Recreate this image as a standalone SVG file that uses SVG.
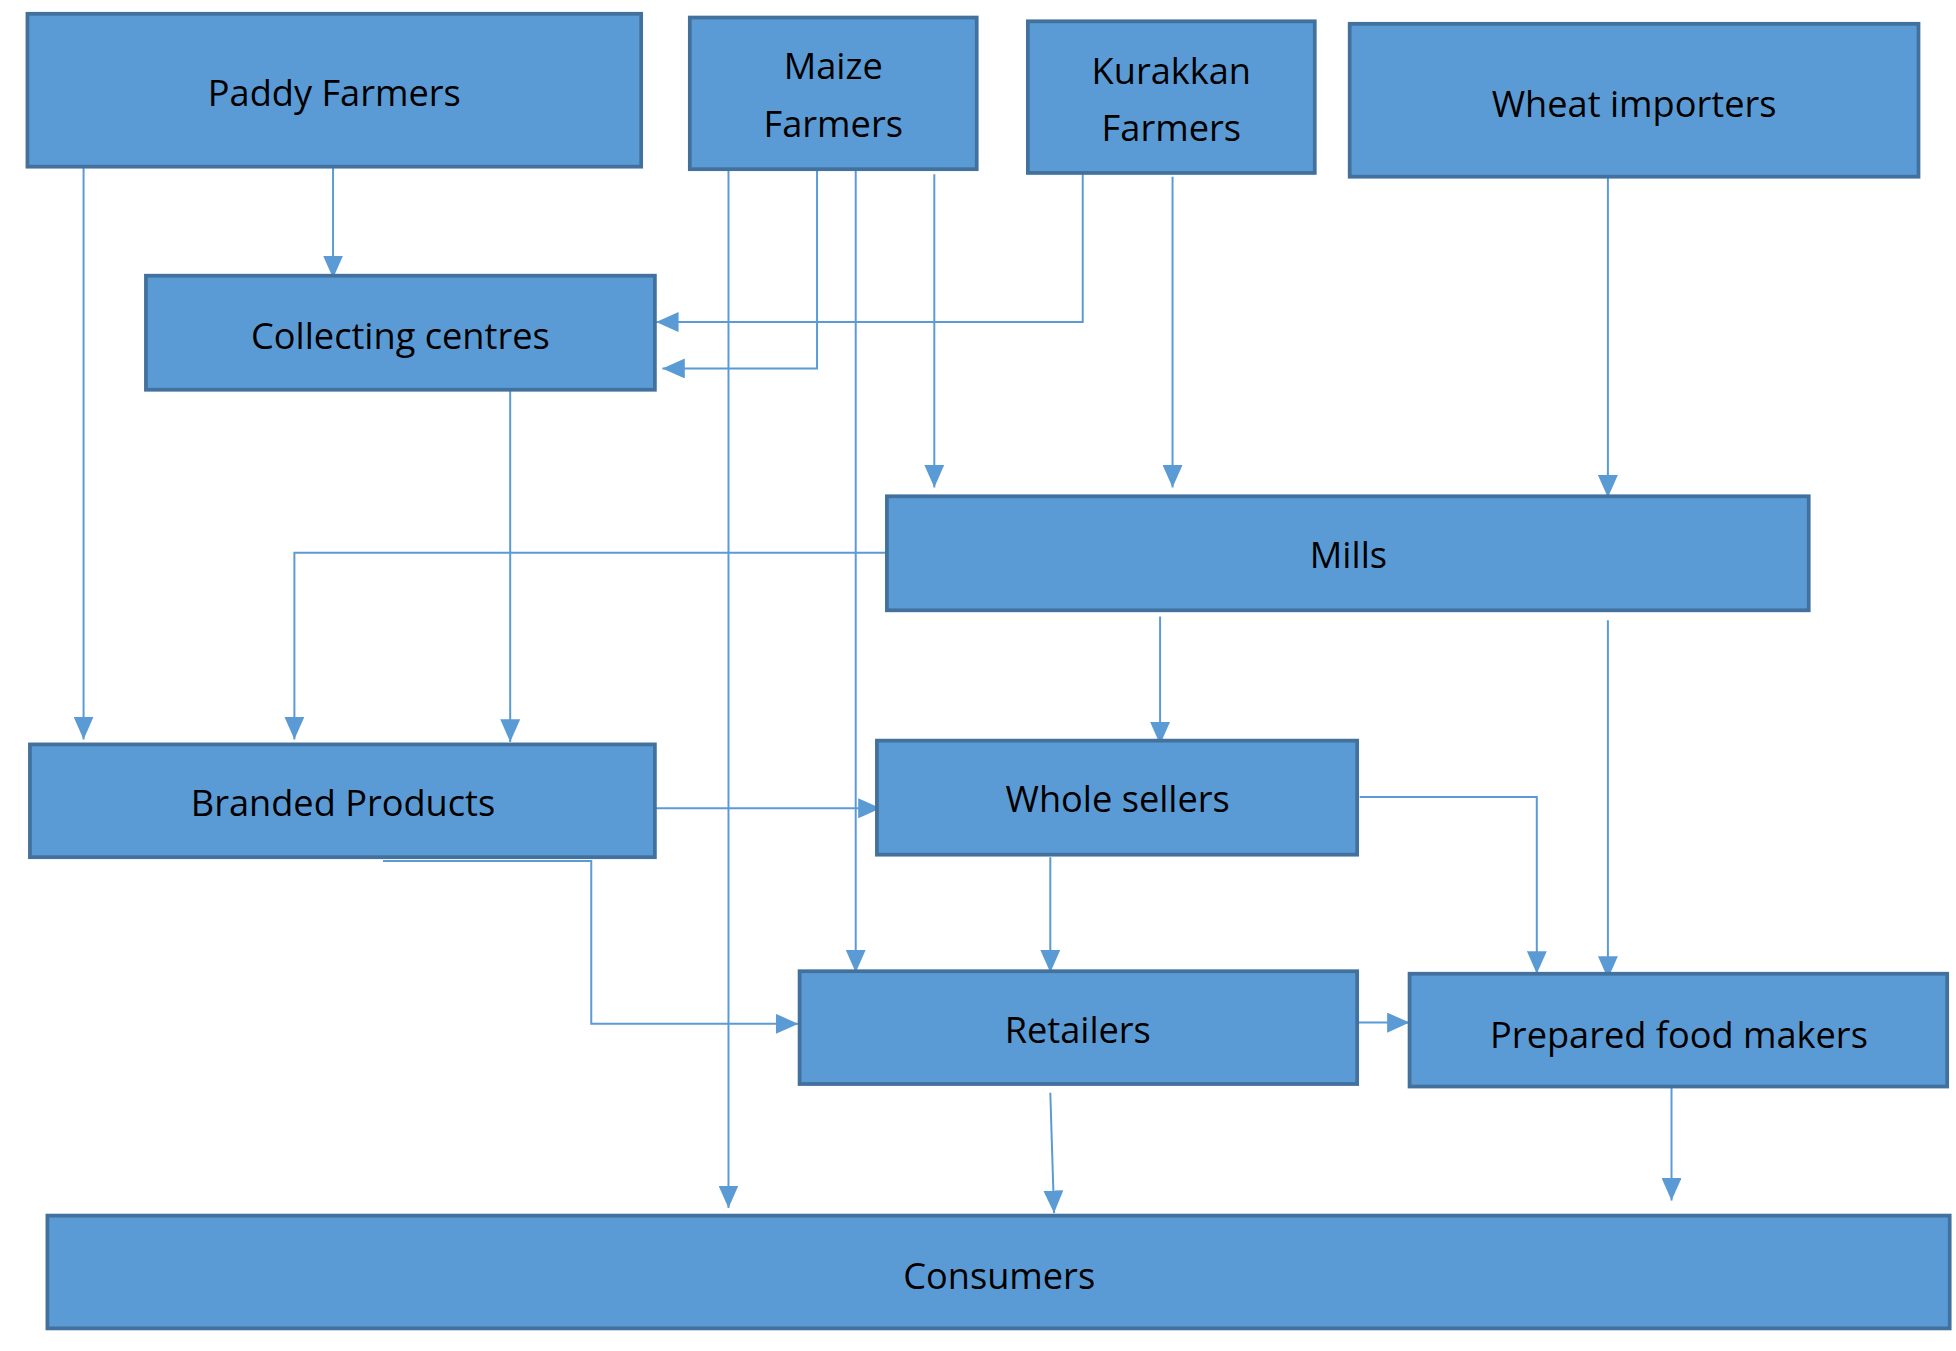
<svg xmlns="http://www.w3.org/2000/svg" width="1956" height="1351" viewBox="0 0 1956 1351">
<style>
.n{fill:#5B9BD5;stroke:#41719C;stroke-width:3}
.t{font-family:"Open Sans","Liberation Sans",sans-serif;font-size:29px;fill:#000;text-anchor:middle;dominant-baseline:central}
.c{fill:none;stroke:#5B9BD5;stroke-width:1.6}
</style>
<defs><marker id="a" markerWidth="10" markerHeight="10" refX="9" refY="5" orient="auto" markerUnits="userSpaceOnUse" viewBox="0 0 10 10"><path d="M0,0 L10,5 L0,10 z" fill="#5B9BD5"/></marker>
<marker id="b" markerWidth="18" markerHeight="16" refX="18" refY="8" orient="auto" markerUnits="userSpaceOnUse"><path d="M0,0 L18,8 L0,16 z" fill="#5B9BD5"/></marker></defs>
<rect width="1956" height="1351" fill="#fff"/>
<g transform="scale(1.2474,1.2532)">
<g id="connectors">
<path class="c" marker-end="url(#b)" d="M67,133 V590"/>
<path class="c" marker-end="url(#b)" d="M267,133 V222"/>
<path class="c" marker-end="url(#b)" d="M584,135 V964"/>
<path class="c" marker-end="url(#b)" d="M655,135 V294 H531"/>
<path class="c" marker-end="url(#b)" d="M686,135 V776"/>
<path class="c" marker-end="url(#b)" d="M749,139 V389"/>
<path class="c" marker-end="url(#b)" d="M868,138 V257 H526"/>
<path class="c" marker-end="url(#b)" d="M940,141 V389"/>
<path class="c" marker-end="url(#b)" d="M1289,141 V397"/>
<path class="c" marker-end="url(#b)" d="M711,441 H236 V590"/>
<path class="c" marker-end="url(#b)" d="M409,311 V592"/>
<path class="c" marker-end="url(#b)" d="M930,492 V594"/>
<path class="c" marker-end="url(#b)" d="M1289,495 V781"/>
<path class="c" marker-end="url(#b)" d="M525,645 H706"/>
<path class="c" marker-end="url(#b)" d="M307,687 H474 V817 H640"/>
<path class="c" marker-end="url(#b)" d="M842,684 V776"/>
<path class="c" marker-end="url(#b)" d="M1090,636 H1232 V777"/>
<path class="c" marker-end="url(#b)" d="M1088,816 H1130"/>
<path class="c" marker-end="url(#b)" d="M842,872 L845,968"/>
<path class="c" marker-end="url(#b)" d="M1340,867 V958"/>
</g>
<g id="paddy"><rect class="n" x="22" y="11" width="492" height="122"/><text class="t" x="268" y="73">Paddy Farmers</text></g>
<g id="maize"><rect class="n" x="553" y="14" width="230" height="121"/><text class="t" x="668" y="52">Maize</text><text class="t" x="668" y="98">Farmers</text></g>
<g id="kurakkan"><rect class="n" x="824" y="17" width="230" height="121"/><text class="t" x="939" y="56">Kurakkan</text><text class="t" x="939" y="101">Farmers</text></g>
<g id="wheat"><rect class="n" x="1082" y="19" width="456" height="122"/><text class="t" x="1310" y="82">Wheat importers</text></g>
<g id="collecting"><rect class="n" x="117" y="220" width="408" height="91"/><text class="t" x="321" y="267">Collecting centres</text></g>
<g id="mills"><rect class="n" x="711" y="396" width="739" height="91"/><text class="t" x="1081" y="442">Mills</text></g>
<g id="branded"><rect class="n" x="24" y="594" width="501" height="90"/><text class="t" x="275" y="640">Branded Products</text></g>
<g id="wholesellers"><rect class="n" x="703" y="591" width="385" height="91"/><text class="t" x="896" y="637">Whole sellers</text></g>
<g id="retailers"><rect class="n" x="641" y="775" width="447" height="90"/><text class="t" x="864" y="821">Retailers</text></g>
<g id="prepared"><rect class="n" x="1130" y="777" width="431" height="90"/><text class="t" x="1346" y="825">Prepared food makers</text></g>
<g id="consumers"><rect class="n" x="38" y="970" width="1525" height="90"/><text class="t" x="801" y="1017">Consumers</text></g>
</g>
</svg>
